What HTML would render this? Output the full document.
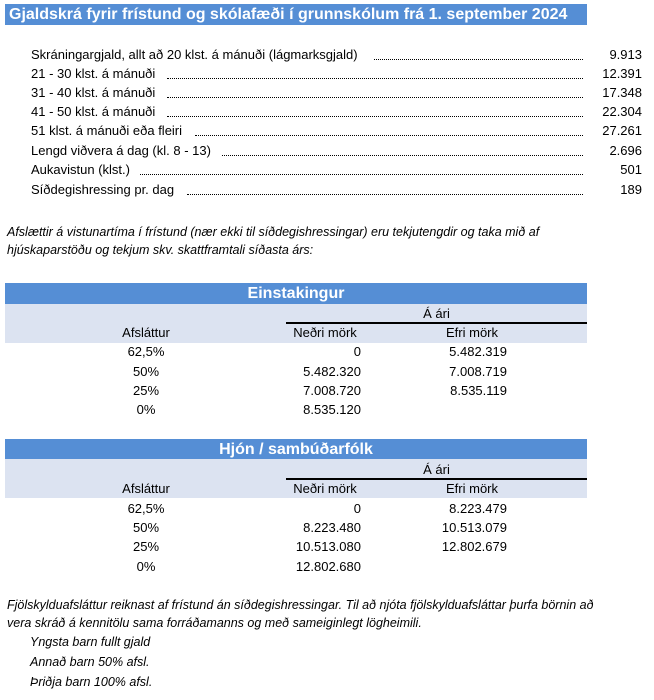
<!DOCTYPE html>
<html><head><meta charset="utf-8"><style>
body{margin:0;width:654px;height:700px;background:#fff;font-family:"Liberation Sans",Arial,sans-serif;font-size:13px;color:#000;position:relative;overflow:hidden}
.a{position:absolute;white-space:nowrap;line-height:16px}
.bar{position:absolute;left:5px;width:582px;background:#558ed5;color:#fff;font-weight:bold}
.band{position:absolute;left:5px;width:582px;background:#dce3f1}
.ln{position:absolute;left:286px;width:301px;height:2px;background:#000}
.dots{position:absolute;height:0;border-bottom:1px dotted #000}
.r{text-align:right}
.c{text-align:center}
i{font-style:italic}
</style></head><body>
<div class="bar" style="top:4px;height:21px;font-size:16px;line-height:21px;padding-left:4px;width:578px">Gjaldskrá fyrir frístund og skólafæði í grunnskólum frá 1. september 2024</div>

<div class="a" style="left:31px;top:47px">Skráningargjald, allt að 20 klst. á mánuði (lágmarksgjald)</div><div class="dots" style="left:374px;width:209px;top:59px"></div><div class="a r" style="left:560px;width:82px;top:47px">9.913</div>
<div class="a" style="left:31px;top:66px">21 - 30 klst. á mánuði</div><div class="dots" style="left:167px;width:416px;top:78px"></div><div class="a r" style="left:560px;width:82px;top:66px">12.391</div>
<div class="a" style="left:31px;top:85px">31 - 40 klst. á mánuði</div><div class="dots" style="left:167px;width:416px;top:97px"></div><div class="a r" style="left:560px;width:82px;top:85px">17.348</div>
<div class="a" style="left:31px;top:104px">41 - 50 klst. á mánuði</div><div class="dots" style="left:167px;width:416px;top:116px"></div><div class="a r" style="left:560px;width:82px;top:104px">22.304</div>
<div class="a" style="left:31px;top:123px">51 klst. á mánuði eða fleiri</div><div class="dots" style="left:195px;width:388px;top:135px"></div><div class="a r" style="left:560px;width:82px;top:123px">27.261</div>
<div class="a" style="left:31px;top:143px">Lengd viðvera á dag (kl. 8 - 13)</div><div class="dots" style="left:222px;width:361px;top:155px"></div><div class="a r" style="left:560px;width:82px;top:143px">2.696</div>
<div class="a" style="left:31px;top:162px">Aukavistun (klst.)</div><div class="dots" style="left:140px;width:443px;top:174px"></div><div class="a r" style="left:560px;width:82px;top:162px">501</div>
<div class="a" style="left:31px;top:182px">Síðdegishressing pr. dag</div><div class="dots" style="left:187px;width:396px;top:194px"></div><div class="a r" style="left:560px;width:82px;top:182px">189</div>

<div class="a" style="left:7px;top:224px;font-size:12.5px"><i>Afslættir á vistunartíma í frístund (nær ekki til síðdegishressingar) eru tekjutengdir og taka mið af</i></div>
<div class="a" style="left:7px;top:242px;font-size:12.5px"><i>hjúskaparstöðu og tekjum skv. skattframtali síðasta árs:</i></div>

<div class="bar c" style="top:283px;height:21px;font-size:16px;line-height:22px">Einstakingur</div>
<div class="band" style="top:304px;height:39px"></div>
<div class="a c" style="left:286px;width:301px;top:306px">Á ári</div>
<div class="ln" style="top:322px"></div>
<div class="a c" style="left:86px;width:120px;top:325px">Afsláttur</div>
<div class="a c" style="left:265px;width:120px;top:325px">Neðri mörk</div>
<div class="a c" style="left:412px;width:120px;top:325px">Efri mörk</div>
<div class="a c" style="left:86px;width:120px;top:344px">62,5%</div><div class="a r" style="left:260px;width:101px;top:344px">0</div><div class="a r" style="left:406px;width:101px;top:344px">5.482.319</div>
<div class="a c" style="left:86px;width:120px;top:364px">50%</div><div class="a r" style="left:260px;width:101px;top:364px">5.482.320</div><div class="a r" style="left:406px;width:101px;top:364px">7.008.719</div>
<div class="a c" style="left:86px;width:120px;top:383px">25%</div><div class="a r" style="left:260px;width:101px;top:383px">7.008.720</div><div class="a r" style="left:406px;width:101px;top:383px">8.535.119</div>
<div class="a c" style="left:86px;width:120px;top:402px">0%</div><div class="a r" style="left:260px;width:101px;top:402px">8.535.120</div>

<div class="bar c" style="top:439px;height:20px;font-size:16px;line-height:21px">Hjón / sambúðarfólk</div>
<div class="band" style="top:459px;height:39px"></div>
<div class="a c" style="left:286px;width:301px;top:462px">Á ári</div>
<div class="ln" style="top:478px"></div>
<div class="a c" style="left:86px;width:120px;top:481px">Afsláttur</div>
<div class="a c" style="left:265px;width:120px;top:481px">Neðri mörk</div>
<div class="a c" style="left:412px;width:120px;top:481px">Efri mörk</div>
<div class="a c" style="left:86px;width:120px;top:501px">62,5%</div><div class="a r" style="left:260px;width:101px;top:501px">0</div><div class="a r" style="left:406px;width:101px;top:501px">8.223.479</div>
<div class="a c" style="left:86px;width:120px;top:520px">50%</div><div class="a r" style="left:260px;width:101px;top:520px">8.223.480</div><div class="a r" style="left:406px;width:101px;top:520px">10.513.079</div>
<div class="a c" style="left:86px;width:120px;top:539px">25%</div><div class="a r" style="left:260px;width:101px;top:539px">10.513.080</div><div class="a r" style="left:406px;width:101px;top:539px">12.802.679</div>
<div class="a c" style="left:86px;width:120px;top:559px">0%</div><div class="a r" style="left:260px;width:101px;top:559px">12.802.680</div>

<div class="a" style="left:7px;top:597px;font-size:12.5px"><i>Fjölskylduafsláttur reiknast af frístund án síðdegishressingar. Til að njóta fjölskylduafsláttar þurfa börnin að</i></div>
<div class="a" style="left:7px;top:615px;font-size:12.5px"><i>vera skráð á kennitölu sama forráðamanns og með sameiginlegt lögheimili.</i></div>
<div class="a" style="left:30px;top:634px;font-size:12.5px"><i>Yngsta barn fullt gjald</i></div>
<div class="a" style="left:30px;top:654px;font-size:12.5px"><i>Annað barn 50% afsl.</i></div>
<div class="a" style="left:30px;top:674px;font-size:12.5px"><i>Þriðja barn 100% afsl.</i></div>
</body></html>
